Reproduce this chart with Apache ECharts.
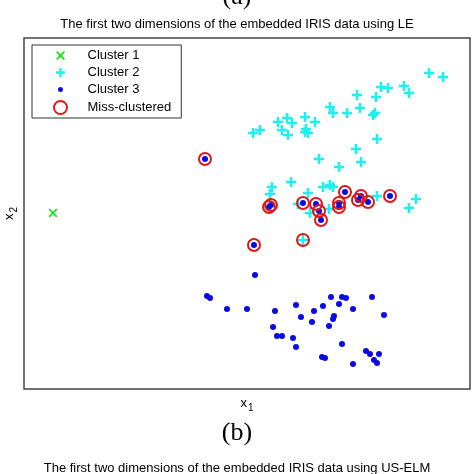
<!DOCTYPE html>
<html lang="en" style="width: 100%;height:100%">
    <head>
        <meta charset="UTF-8">
        <title>IRIS LE embedding</title>
        <script src="https://cdn.jsdelivr.net/npm/echarts@6/dist/echarts.min.js"></script>
    </head>
    <body style="width: 100%;height:100%;margin:0">
        <div id="scatter" style="width: 474px;height:474px"></div>
        <script>
            // points (arbitrary units, no ticks shown)
            const cluster1 = [[29, 176]];

            const cluster2 = [
                [405, 316], [419, 312], [357, 302], [364, 301], [380, 303], [385, 296],
                [333, 294], [352, 292], [306, 282], [309, 276], [336, 281], [323, 276],
                [351, 276], [349, 274], [281, 272], [291, 267], [263, 271], [268, 266],
                [254, 267], [258, 259], [264, 254], [282, 260], [284, 256], [281, 257],
                [229, 256], [236, 259], [353, 250], [332, 240], [295, 230], [315, 222],
                [337, 227], [248, 202], [246, 195], [267, 207], [284, 196], [299, 202],
                [306, 204], [309, 202], [353, 193], [392, 190], [385, 181], [274, 185],
                [286, 176], [305, 180], [279, 149]
            ];

            const cluster3 = [
                [181, 230], [247, 184], [245, 182], [279, 186], [292, 185], [295, 178],
                [297, 169], [321, 197], [315, 186], [315, 182], [337, 193], [334, 189],
                [344, 187], [366, 193], [230, 144],
                [231, 114], [183, 93], [186, 91], [203, 80], [223, 80], [251, 78],
                [272, 84], [277, 72], [290, 78], [299, 83], [307, 92], [318, 92],
                [322, 91], [315, 85], [329, 80], [348, 92], [360, 74], [310, 73],
                [309, 70], [288, 67], [305, 63], [249, 62], [253, 53], [258, 53],
                [269, 51], [272, 42], [318, 45], [298, 32], [301, 31], [329, 25],
                [342, 38], [346, 35], [355, 35], [350, 29], [353, 26]
            ];

            const missClustered = [
                [181, 230], [247, 184], [245, 182], [279, 186], [292, 185], [295, 178],
                [297, 169], [321, 197], [315, 186], [315, 182], [337, 193], [334, 189],
                [344, 187], [366, 193], [230, 144], [279, 149]
            ];

            const seriesNames = ['Cluster 1', 'Cluster 2', 'Cluster 3', 'Miss-clustered'];

            const crossPath = 'path://M0,1.4L1.4,0L5,3.6L8.6,0L10,1.4L6.4,5L10,8.6L8.6,10L5,6.4L1.4,10L0,8.6L3.6,5Z';
            const plusPath = 'path://M3.7,0H6.3V3.7H10V6.3H6.3V10H3.7V6.3H0V3.7H3.7Z';
            // legend icons padded inside a 13x13 box so they keep their small size
            const crossIcon = 'path://M0,0M13,13M2,3.2L3.2,2L6.5,5.3L9.8,2L11,3.2L7.7,6.5L11,9.8L9.8,11L6.5,7.7L3.2,11L2,9.8L5.3,6.5Z';
            const plusIcon = 'path://M0,0M13,13M5.3,2H7.7V5.3H11V7.7H7.7V11H5.3V7.7H2V5.3H5.3Z';
            const dotIcon = 'path://M0,0M13,13M4,6.5A2.5,2.5,0,1,1,9,6.5A2.5,2.5,0,1,1,4,6.5Z';

            const font = '"Liberation Sans", Arial, Helvetica, sans-serif';

            const myChart = echarts.init(document.getElementById('scatter'));

            const option = {
                backgroundColor: '#fff',
                animation: false,
                title: [
                    {
                        text: '(a)',
                        left: 'center',
                        top: -21,
                        textStyle: {fontFamily: '"Liberation Serif", serif', fontSize: 26, fontWeight: 'normal', color: '#000'}
                    },
                    {
                        text: 'The first two dimensions of the embedded IRIS data using LE',
                        left: 'center',
                        top: 13,
                        textStyle: {fontFamily: font, fontSize: 13, fontWeight: 'normal', color: '#000'}
                    },
                    {
                        text: '(b)',
                        left: 'center',
                        top: 415,
                        textStyle: {fontFamily: '"Liberation Serif", serif', fontSize: 26, fontWeight: 'normal', color: '#000'}
                    },
                    {
                        text: 'The first two dimensions of the embedded IRIS data using US-ELM',
                        left: 'center',
                        top: 457,
                        textStyle: {fontFamily: font, fontSize: 13, fontWeight: 'normal', color: '#000'}
                    }
                ],
                legend: {
                    orient: 'vertical',
                    left: 32,
                    top: 45,
                    padding: [4, 10, 3, 21],
                    itemWidth: 44,
                    itemHeight: 13,
                    itemGap: 4,
                    borderColor: '#333',
                    borderWidth: 1,
                    backgroundColor: '#fff',
                    textStyle: {fontFamily: font, fontSize: 13, color: '#000'},
                    data: [
                        {name: seriesNames[0], icon: crossIcon},
                        {name: seriesNames[1], icon: plusIcon},
                        {name: seriesNames[2], icon: dotIcon},
                        {name: seriesNames[3], icon: 'circle'}
                    ]
                },
                grid: {
                    left: 24,
                    top: 38,
                    right: 4,
                    bottom: 85,
                    outerBoundsMode: 'none',
                    show: true,
                    borderColor: '#444',
                    borderWidth: 1.5
                },
                xAxis: {
                    type: 'value',
                    min: 0,
                    max: 446,
                    name: '{v|x}{s|1}',
                    nameLocation: 'middle',
                    nameGap: 4,
                    nameTextStyle: {
                        rich: {
                            v: {fontFamily: font, fontSize: 13, color: '#000'},
                            s: {fontFamily: font, fontSize: 10, color: '#000', verticalAlign: 'top', padding: [10, 0, 0, 1]}
                        }
                    },
                    axisLine: {show: false},
                    axisTick: {show: false},
                    axisLabel: {show: false},
                    splitLine: {show: false}
                },
                yAxis: {
                    type: 'value',
                    min: 0,
                    max: 351,
                    name: '{v|x}{s|2}',
                    nameLocation: 'middle',
                    nameGap: 5,
                    nameTextStyle: {
                        rich: {
                            v: {fontFamily: font, fontSize: 13, color: '#000'},
                            s: {fontFamily: font, fontSize: 10, color: '#000', verticalAlign: 'top', padding: [10, 0, 0, 1]}
                        }
                    },
                    axisLine: {show: false},
                    axisTick: {show: false},
                    axisLabel: {show: false},
                    splitLine: {show: false}
                },
                series: [
                    {
                        name: seriesNames[0],
                        type: 'scatter',
                        symbol: crossPath,
                        symbolSize: 9,
                        itemStyle: {color: '#22e022', opacity: 1},
                        data: cluster1
                    },
                    {
                        name: seriesNames[1],
                        type: 'scatter',
                        symbol: plusPath,
                        symbolSize: 10,
                        itemStyle: {color: '#1ef0f0', opacity: 1},
                        data: cluster2
                    },
                    {
                        name: seriesNames[2],
                        type: 'scatter',
                        symbol: 'circle',
                        symbolSize: 6,
                        itemStyle: {color: '#0a0ae6', opacity: 1},
                        data: cluster3
                    },
                    {
                        name: seriesNames[3],
                        type: 'scatter',
                        symbol: 'circle',
                        symbolSize: 12,
                        itemStyle: {color: 'rgba(0,0,0,0)', borderColor: '#e01818', borderWidth: 2, opacity: 1},
                        data: missClustered
                    }
                ]
            };

            myChart.setOption(option);
        </script>
    </body>
</html>
